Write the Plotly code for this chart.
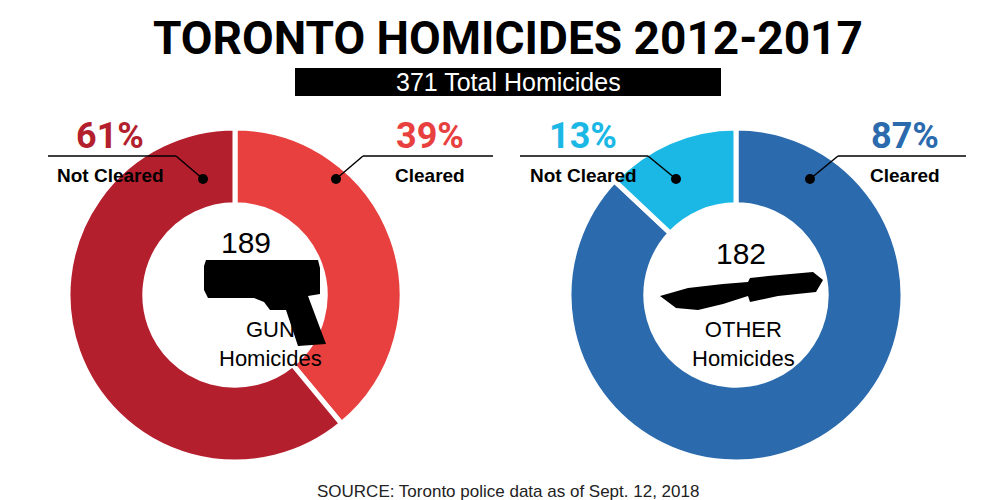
import plotly.graph_objects as go

gun_labels = ["Cleared", "Not Cleared"]
gun_values = [39, 61]
gun_colors = ["#e8403f", "#b41f2e"]
other_labels = ["Cleared", "Not Cleared"]
other_values = [87, 13]
other_colors = ["#2a6aad", "#1bb8e5"]
gun_total = 189
other_total = 182
total = 371

W, H = 1000, 500
def px(x): return x / W
def py(y): return 1 - y / H

fig = go.Figure()
fig.add_trace(go.Pie(labels=gun_labels, values=gun_values, hole=0.54, sort=False,
                     direction="clockwise", rotation=0, textinfo="none",
                     marker=dict(colors=gun_colors, line=dict(color="white", width=5)),
                     domain=dict(x=[px(60), px(394)], y=[py(454), py(120)])))
fig.add_trace(go.Pie(labels=other_labels, values=other_values, hole=0.54, sort=False,
                     direction="clockwise", rotation=0, textinfo="none",
                     marker=dict(colors=other_colors, line=dict(color="white", width=5)),
                     domain=dict(x=[px(561), px(895)], y=[py(454), py(120)])))

shapes = [dict(type="rect", xref="paper", yref="paper", x0=px(287), x1=px(713), y0=py(88), y1=py(60),
               fillcolor="black", line=dict(width=0))]
ann = [
    dict(text="<b>TORONTO HOMICIDES 2012-2017</b>", x=0.5, y=py(30), font=dict(size=46, family="Roboto, Arial", color="black")),
    dict(text=f"{total} Total Homicides", x=0.5, y=py(74), font=dict(size=25, family="Arial", color="white")),
    dict(text="SOURCE: Toronto police data as of Sept. 12, 2018", x=0.5, y=py(483), font=dict(size=17, family="Arial", color="#222")),
]

def callout(pct, label, color, x_text, x_line0, x_line1, elbow_x, dot):
    ann.append(dict(text=f"<b>{pct}%</b>", x=px(x_text), y=py(128), font=dict(size=36, family="Roboto, Arial", color=color)))
    ann.append(dict(text=f"<b>{label}</b>", x=px(x_text), y=py(167), font=dict(size=19, family="Arial", color="black")))
    shapes.append(dict(type="line", xref="paper", yref="paper", x0=px(x_line0), x1=px(x_line1), y0=py(148), y1=py(148), line=dict(color="black", width=1.5)))
    shapes.append(dict(type="line", xref="paper", yref="paper", x0=px(elbow_x), x1=px(dot[0]), y0=py(148), y1=py(dot[1]), line=dict(color="black", width=1.5)))
    shapes.append(dict(type="circle", xref="paper", yref="paper", x0=px(dot[0]-5), x1=px(dot[0]+5), y0=py(dot[1]+5), y1=py(dot[1]-5), fillcolor="black", line=dict(width=0)))

callout(gun_values[1], "Not Cleared", "#b41f2e", 102, 40, 168, 168, (195, 171))
callout(gun_values[0], "Cleared", "#e8403f", 422, 355, 485, 355, (328, 171))
callout(other_values[1], "Not Cleared", "#1bb8e5", 575, 512, 640, 640, (668, 171))
callout(other_values[0], "Cleared", "#2a6aad", 897, 830, 958, 830, (802, 171))

ann += [
    dict(text=str(gun_total), x=px(238), y=py(234), font=dict(size=30, family="Arial", color="black")),
    dict(text="GUN<br>Homicides", x=px(262), y=py(336), font=dict(size=22, family="Arial", color="black")),
    dict(text=str(other_total), x=px(733), y=py(245), font=dict(size=30, family="Arial", color="black")),
    dict(text="OTHER<br>Homicides", x=px(735), y=py(336), font=dict(size=22, family="Arial", color="black")),
]
for a in ann:
    a.update(xref="paper", yref="paper", showarrow=False, xanchor="center", yanchor="middle")

def path(pts):
    return "M " + " L ".join(f"{px(x)},{py(y)}" for x, y in pts) + " Z"
# gun icon
shapes.append(dict(type="path", xref="paper", yref="paper", fillcolor="black", line=dict(width=0), layer="above",
    path=path([(196,258),(198,252),(310,252),(312,260),(312,286),(300,288),(318,336),(290,338),(278,302),(262,302),(256,294),(246,290),(200,290),(196,282)])))
# knife icon
shapes.append(dict(type="path", xref="paper", yref="paper", fillcolor="black", line=dict(width=0), layer="above",
    path=path([(652,288),(680,280),(715,276),(740,274),(742,270),(760,268),(805,264),(815,272),(808,284),(770,288),(742,294),(740,288),(715,296),(690,302),(668,300)])))

fig.update_layout(width=W, height=H, margin=dict(l=0, r=0, t=0, b=0), showlegend=False,
                  paper_bgcolor="white", shapes=shapes, annotations=ann)
fig.write_html("out.html")
